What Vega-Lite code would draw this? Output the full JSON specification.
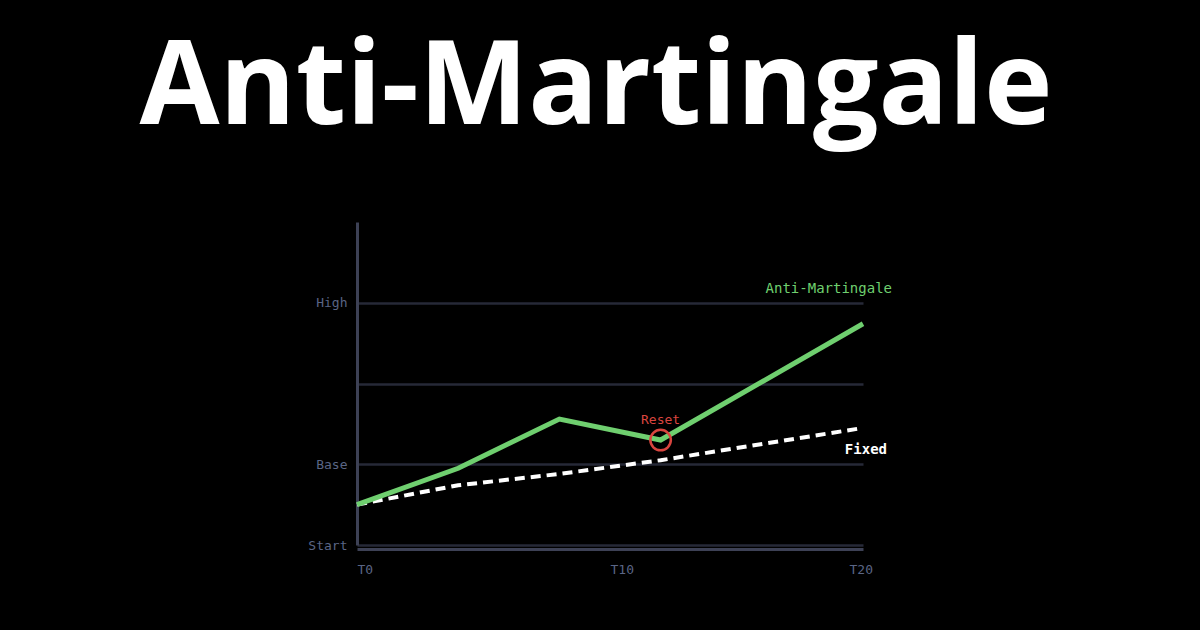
{
  "$schema": "https://vega.github.io/schema/vega-lite/v6.json",
  "width": 506,
  "height": 323,
  "autosize": {"type": "none"},
  "padding": {"left": 357, "top": 222, "right": 337, "bottom": 85},
  "background": "#000000",
  "title": {
    "text": "Anti-Martingale",
    "font": "Open Sans",
    "fontWeight": "bold",
    "fontSize": 116,
    "color": "#ffffff",
    "anchor": "middle",
    "dx": -14,
    "offset": -18,
    "baseline": "alphabetic"
  },
  "config": {
    "view": {"stroke": null},
    "axis": {"labelFont": "DejaVu Sans Mono", "labelFontSize": 13, "labelColor": "#5a6585"}
  },
  "datasets": {
    "series": [
      {"t": 0, "v": 0.5, "s": "Anti-Martingale"},
      {"t": 4, "v": 0.95, "s": "Anti-Martingale"},
      {"t": 8, "v": 1.56, "s": "Anti-Martingale"},
      {"t": 12, "v": 1.3, "s": "Anti-Martingale"},
      {"t": 20, "v": 2.74, "s": "Anti-Martingale"},
      {"t": 0, "v": 0.5, "s": "Fixed"},
      {"t": 4, "v": 0.74, "s": "Fixed"},
      {"t": 8, "v": 0.88, "s": "Fixed"},
      {"t": 12, "v": 1.05, "s": "Fixed"},
      {"t": 20, "v": 1.45, "s": "Fixed"}
    ],
    "reset": [{"t": 12, "v": 1.3, "label": "Reset"}]
  },
  "layer": [
    {
      "data": {"name": "series"},
      "transform": [{"filter": "datum.s == 'Fixed'"}],
      "mark": {"type": "line", "color": "#ffffff", "strokeWidth": 4, "strokeDash": [10, 6]},
      "encoding": {
        "x": {
          "field": "t", "type": "quantitative",
          "scale": {"domain": [0, 20], "nice": false, "zero": false},
          "axis": {
            "title": null, "values": [0, 10, 20],
            "labelExpr": "'T' + datum.value",
            "labelAlign": "left",
            "labelOffset": {"condition": {"test": "datum.value == 20", "value": -14}, "value": 0},
            "ticks": false, "grid": false,
            "domainColor": "#3d4155", "domainWidth": 3, "offset": 4,
            "labelPadding": 20, "labelBaseline": "middle"
          }
        },
        "y": {
          "field": "v", "type": "quantitative",
          "scale": {"domain": [0, 4], "nice": false},
          "axis": {
            "title": null, "values": [0, 1, 2, 3],
            "labelExpr": "['Start','Base','','High'][datum.value]",
            "ticks": false, "grid": true,
            "gridColor": "#262937", "gridWidth": 2.5,
            "domainColor": "#3d4155", "domainWidth": 3,
            "labelPadding": 10
          }
        }
      }
    },
    {
      "data": {"name": "series"},
      "transform": [{"filter": "datum.s == 'Anti-Martingale'"}],
      "mark": {"type": "line", "color": "#6fcf6f", "strokeWidth": 5},
      "encoding": {
        "x": {"field": "t", "type": "quantitative"},
        "y": {"field": "v", "type": "quantitative"}
      }
    },
    {
      "data": {"name": "reset"},
      "mark": {"type": "point", "shape": "circle", "size": 420, "filled": false, "stroke": "#d9453f", "strokeWidth": 2.5, "opacity": 1},
      "encoding": {
        "x": {"field": "t", "type": "quantitative"},
        "y": {"field": "v", "type": "quantitative"}
      }
    },
    {
      "data": {"name": "reset"},
      "mark": {"type": "text", "color": "#d9453f", "font": "DejaVu Sans Mono", "fontSize": 13, "dy": -20, "align": "center"},
      "encoding": {
        "x": {"field": "t", "type": "quantitative"},
        "y": {"field": "v", "type": "quantitative"},
        "text": {"field": "label"}
      }
    },
    {
      "data": {"name": "series"},
      "transform": [{"filter": "datum.t == 20 && datum.s == 'Anti-Martingale'"}],
      "mark": {"type": "text", "color": "#6fcf6f", "font": "DejaVu Sans Mono", "fontSize": 14, "align": "right", "dx": 29, "dy": -35},
      "encoding": {
        "x": {"field": "t", "type": "quantitative"},
        "y": {"field": "v", "type": "quantitative"},
        "text": {"field": "s"}
      }
    },
    {
      "data": {"name": "series"},
      "transform": [{"filter": "datum.t == 20 && datum.s == 'Fixed'"}],
      "mark": {"type": "text", "color": "#ffffff", "font": "DejaVu Sans Mono", "fontSize": 14, "fontWeight": "bold", "align": "right", "dx": 24, "dy": 22},
      "encoding": {
        "x": {"field": "t", "type": "quantitative"},
        "y": {"field": "v", "type": "quantitative"},
        "text": {"field": "s"}
      }
    }
  ]
}
